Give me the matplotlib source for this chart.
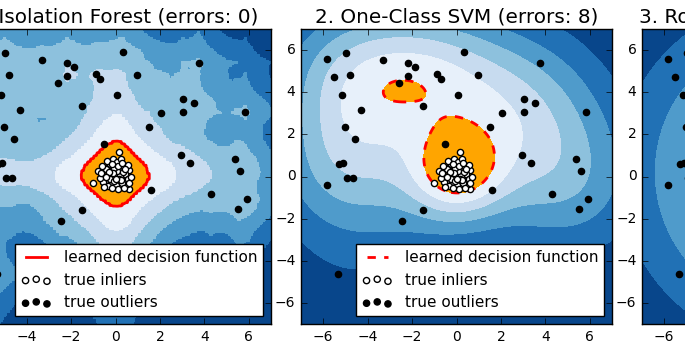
import numpy as np
import matplotlib
matplotlib.use("Agg")
import matplotlib.pyplot as plt
from matplotlib.lines import Line2D

plt.style.use("classic")
plt.rcParams["font.family"] = ["DejaVu Sans"]

# 数据: 点 (三个子图共用)
outlier_x = [-5.85, -4.96, -5.50, -4.79, -5.14, -4.30, -5.01, -4.58, -5.30, -5.11,
             -4.92, -4.65, -3.32, -2.17, -1.89, -2.17, -2.57, -1.52, -0.90, -0.72,
             0.32, 0.05, 0.99, 3.74, 3.02, 3.52, 3.02, 2.07, 1.53, 5.82,
             -0.54, 2.93, 3.34, 5.40, 5.62, -5.85, -1.49, -2.46, 1.58, 4.28,
             5.53, 5.91, -5.32]
outlier_y = [5.60, 5.84, 4.70, 4.80, 3.85, 3.15, 2.37, 1.77, 0.58, 0.62,
             -0.05, -0.05, 5.55, 5.37, 5.18, 4.75, 4.42, 3.34, 4.86, 4.65,
             5.89, 3.89, 4.80, 5.37, 3.66, 3.47, 3.05, 2.99, 2.33, 3.05,
             1.53, 1.00, 0.66, 0.85, 0.25, -0.38, -1.57, -2.09, -0.62, -0.85,
             -1.52, -1.09, -4.61]

inlier_x = [0.14, -0.10, 0.23, -0.01, -0.36, -0.77, 0.62, -1.01, -0.59, 0.62,
            0.21, 0.50, -0.43, 0.09, 0.32, -0.19, -0.25, 0.05, 0.35, 0.45,
            -0.45, -0.30, 0.00, 0.15, -0.10, 0.20, 0.40, -0.20, 0.00, -0.35,
            0.30, -0.55, 0.10, -0.15, 0.55, -0.60, 0.25, -0.40, 0.05, -0.05,
            0.55, -0.70, 0.15, -0.25, 0.35, -0.10, 0.70, -0.50, 0.40, -0.05,
            0.10, -0.30, 0.25, -0.15, 0.45, -0.65, 0.00, 0.30, -0.45, 0.60]
inlier_y = [1.15, 0.81, 0.60, 0.49, 0.46, 0.25, 0.30, -0.32, 0.06, -0.59,
            -0.49, -0.37, -0.18, -0.21, -0.02, 0.27, 0.60, 0.70, 0.45, 0.10,
            0.35, 0.05, 0.10, 0.30, -0.05, 0.05, -0.20, -0.30, -0.40, -0.45,
            -0.30, -0.25, -0.60, -0.55, 0.55, 0.50, 0.85, 0.75, 0.25, 0.40,
            -0.10, -0.05, -0.10, -0.10, 0.20, 0.15, 0.00, -0.50, -0.55, -0.20,
            0.50, 0.20, -0.15, 0.60, 0.35, 0.15, -0.10, 0.65, 0.00, -0.30]

titles = ["1. Isolation Forest (errors: 0)",
          "2. One-Class SVM (errors: 8)",
          "3. Robust covariance (errors: 0)"]
legend_labels = ["learned decision function", "true inliers", "true outliers"]

ox, oy = np.array(outlier_x), np.array(outlier_y)
ix, iy = np.array(inlier_x), np.array(inlier_y)
n_inl_true = 150


def iforest_score(px, py, a=1.2, p=0.7, base=0.05, cell=0.14):
    # 轴向 Lp (p<1) 核密度的对数, 坐标按格子量化 -> 类似隔离树的十字/块状输出
    q = lambda t: (np.floor(np.asarray(t) / cell) + 0.5)[..., None] * cell
    qx, qy = q(px), q(py)
    xs = np.r_[ox, ix]; ys = np.r_[oy, iy]
    w = np.r_[np.ones(len(ox)), np.full(len(ix), n_inl_true / len(ix))]
    r = (np.abs(qx - xs) ** p + np.abs(qy - ys) ** p) ** (1 / p)
    return np.log(base + (w * np.exp(-r / a)).sum(-1))


def rbf(px, py, xs, ys, gamma=0.1):
    px = np.asarray(px)[..., None]; py = np.asarray(py)[..., None]
    return np.exp(-gamma * ((px - xs) ** 2 + (py - ys) ** 2)).sum(-1)


# One-Class SVM 近似: 外点 RBF 核和 + W * 内点核均值
# W、阈值与内点核宽度按图上边界点 (上端, 下端, 小岛左端) 标定
svm_top, svm_bot, svm_isl = (-0.21, 2.86), (-0.01, -0.78), (-2.40, 3.72)
O = lambda px, py: rbf(px, py, ox, oy)
best = None
for gc in np.linspace(0.1, 3.0, 300):
    C = lambda px, py, g=gc: rbf(px, py, ix, iy, g) / len(ix)
    W = (O(*svm_top) - O(*svm_bot)) / (C(*svm_bot) - C(*svm_top))
    thr = O(*svm_top) + W * C(*svm_top)
    gap = O(*svm_isl) + W * C(*svm_isl) - thr
    if gap >= 0:
        best = (gc, W, thr)
        break
if best is None:
    best = (gc, W, thr)
gc_svm, W_svm, thr_svm = best
svm_score = lambda px, py: O(px, py) + W_svm * rbf(px, py, ix, iy, gc_svm) / len(ix)

mu = np.array([ix.mean(), iy.mean()])
icov = np.linalg.inv(np.cov(np.vstack([ix, iy])))


def cov_score(px, py):
    d = np.stack([np.asarray(px) - mu[0], np.asarray(py) - mu[1]], -1)
    m = np.einsum("...i,ij,...j->...", d, icov, d)
    return -m ** 0.33


xx, yy = np.meshgrid(np.linspace(-7, 7, 200), np.linspace(-7, 7, 200))

# 阈值
if_bound = [(-1.56, 0.3), (1.44, 0.3), (0.19, 1.41), (0.12, -1.36)]
thr_if = np.mean([iforest_score(*p) for p in if_bound])
tr = cov_score(np.r_[ox, ix], np.r_[oy, iy])
thr_cov = np.percentile(tr, 100.0 * len(ox) / (len(ox) + len(ix)))

models = [(iforest_score, thr_if, "solid"),
          (svm_score, thr_svm, "dashed"),
          (cov_score, thr_cov, "dashed")]

fig = plt.figure(figsize=(6.85, 3.6), dpi=100, facecolor="white")
lefts = [-40, 301, 642]
for k, (fn, thr, ls) in enumerate(models):
    ax = fig.add_axes([lefts[k] / 685, 36 / 360, 311 / 685, 295 / 360])
    Z = fn(xx, yy)
    ax.contourf(xx, yy, Z, levels=np.linspace(Z.min(), thr, 7), cmap=plt.cm.Blues_r)
    ax.contourf(xx, yy, Z, levels=[thr, Z.max()], colors="orange")
    ax.contour(xx, yy, Z, levels=[thr], linewidths=2, colors="red", linestyles=ls)
    b = ax.scatter(ix, iy, c="white", s=20, edgecolors="k", zorder=3)
    c = ax.scatter(ox, oy, c="black", s=20, edgecolors="k", zorder=3)
    ax.set_xlim(-7, 7); ax.set_ylim(-7, 7)
    ax.set_xticks(range(-6, 7, 2)); ax.set_yticks(range(-6, 7, 2))
    ax.tick_params(labelsize=10)
    ax.set_title(titles[k], fontsize=14.4)
    line = Line2D([], [], color="red", lw=2, ls=ls)
    ax.legend([line, b, c], legend_labels, loc="lower right", prop={"size": 11})

fig.savefig("out.png", dpi=100, facecolor="white")
